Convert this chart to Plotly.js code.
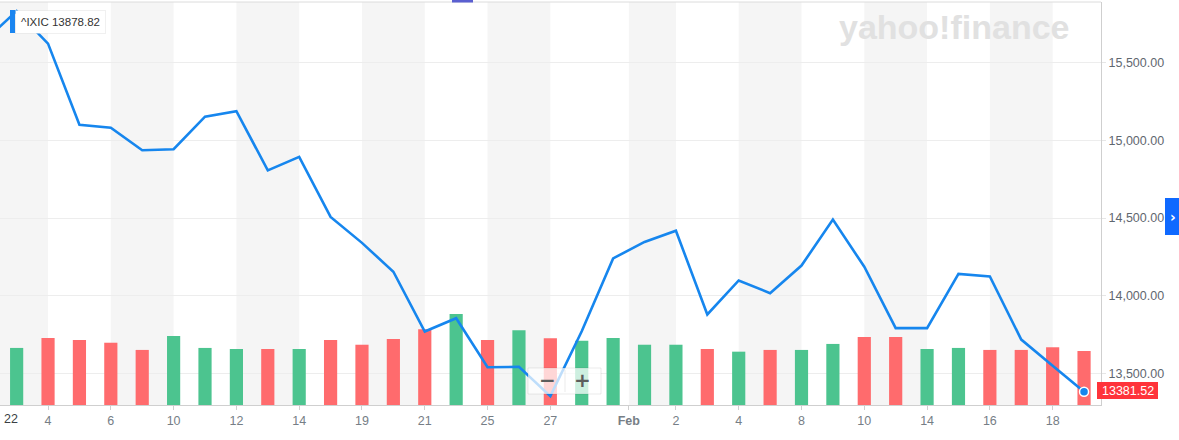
<!DOCTYPE html>
<html>
<head>
<meta charset="utf-8">
<script src="https://cdn.plot.ly/plotly-3.0.1.min.js"></script>
<style>html,body{margin:0;padding:0;background:#fff;}#chart{width:1179px;height:440px;}</style>
</head>
<body>
<div id="chart"></div>
<script>
// ---- data ----
const days = ['Jan 3','Jan 4','Jan 5','Jan 6','Jan 7','Jan 10','Jan 11','Jan 12','Jan 13','Jan 14',
  'Jan 18','Jan 19','Jan 20','Jan 21','Jan 24','Jan 25','Jan 26','Jan 27','Jan 28','Jan 31',
  'Feb 1','Feb 2','Feb 3','Feb 4','Feb 7','Feb 8','Feb 9','Feb 10','Feb 11','Feb 14',
  'Feb 15','Feb 16','Feb 17','Feb 18','Feb 22'];
const prevClose = 15645;   // last close before the window (line enters from the left edge)
const closes = [15833,15623,15100,15081,14936,14943,15153,15188,14807,14894,
  14507,14340,14154,13769,13855,13539,13542,13353,13771,14240,
  14346,14418,13879,14098,14016,14194,14490,14186,13791,13791,
  14140,14124,13717,13548,13381.52];
const volumes = [4.28,5.03,4.88,4.67,4.13,5.18,4.28,4.20,4.20,4.20,
  4.88,4.52,4.95,5.68,6.83,4.88,5.60,5.00,4.82,5.03,
  4.52,4.52,4.20,4.00,4.13,4.13,4.58,5.10,5.10,4.20,
  4.28,4.13,4.13,4.33,4.05];   // billions of shares
const tickDays  = ['Jan 4','Jan 6','Jan 10','Jan 12','Jan 14','Jan 19','Jan 21','Jan 25','Jan 27','Feb 1','Feb 2','Feb 4','Feb 8','Feb 10','Feb 14','Feb 16','Feb 18'];
const tickTexts = ['4','6','10','12','14','19','21','25','27','Feb','2','4','8','10','14','16','18'];
const yearLabel = '22';   // visible part of the year label at the left edge
const symbol = '^IXIC';
const hoverValue = 13878.82;

// ---- derived ----
const idx = days.map((d, i) => i);
const lineX = [-1].concat(idx);
const lineY = [prevClose].concat(closes);
const barColors = closes.map((c, i) => c >= (i === 0 ? prevClose : closes[i - 1]) ? '#4cc48f' : '#ff6b6d');
const tickvals = tickDays.map((d, i) => tickTexts[i] === 'Feb' ? days.indexOf(d) - 0.5 : days.indexOf(d));
const ticktext = tickTexts.map(t => t === 'Feb' ? '<b>Feb</b>' : t);

// plot geometry helpers (pixel -> paper)
const PL = 0, PR = 1101, PT = 2, PB = 405;
const px = x => (x - PL) / (PR - PL);
const py = y => (PB - y) / (PB - PT);

// alternating background bands between labelled ticks
const bandEdges = [[-2, 1], [3, 5], [7, 9], [11, 13], [15, 17], [19.5, 21], [23, 25], [27, 29], [31, 33]];
const shapes = bandEdges.map(b => ({
  type: 'rect', xref: 'x', yref: 'paper', x0: b[0], x1: b[1], y0: 0, y1: 1,
  fillcolor: '#f5f5f5', line: {width: 0}, layer: 'below'
}));
// top border
shapes.push({type: 'line', xref: 'paper', yref: 'paper', x0: 0, x1: 1, y0: 1, y1: 1, line: {color: '#dcdcdc', width: 1}});
// small blue mark at top
shapes.push({type: 'rect', xref: 'paper', yref: 'paper', x0: px(452), x1: px(473), y0: py(2.5), y1: py(0), fillcolor: '#5a5fd0', line: {width: 0}});
// tooltip accent
shapes.push({type: 'rect', xref: 'paper', yref: 'paper', x0: px(10), x1: px(15), y0: py(33), y1: py(10), fillcolor: '#1a85f0', line: {width: 0}});
// zoom control box
shapes.push({type: 'rect', xref: 'paper', yref: 'paper', x0: px(528), x1: px(601), y0: py(394), y1: py(368), fillcolor: 'rgba(255,255,255,0.72)', line: {color: 'rgba(0,0,0,0.08)', width: 1}, layer: 'above'});
shapes.push({type: 'line', xref: 'paper', yref: 'paper', x0: px(565), x1: px(565), y0: py(392), y1: py(370), line: {color: 'rgba(0,0,0,0.08)', width: 1}, layer: 'above'});
// right blue tab
shapes.push({type: 'rect', xref: 'paper', yref: 'paper', x0: px(1165), x1: px(1182), y0: py(235), y1: py(198), fillcolor: '#0f69ff', line: {width: 0}});
// last value red box
shapes.push({type: 'rect', xref: 'paper', yref: 'paper', x0: px(1097), x1: px(1158), y0: py(399), y1: py(382), fillcolor: '#ff333a', line: {width: 0}});

const lastClose = closes[closes.length - 1];
const annotations = [
  {xref: 'paper', yref: 'paper', x: px(2), y: py(419), xanchor: 'left', yanchor: 'middle',
   text: yearLabel, showarrow: false, font: {family: 'Liberation Sans, Arial', size: 12.5, color: '#3a3f44'}},
  {xref: 'paper', yref: 'paper', x: px(15), y: py(10), xanchor: 'left', yanchor: 'top',
   text: symbol + ' ' + hoverValue.toFixed(2), showarrow: false, bgcolor: '#ffffff', bordercolor: 'rgba(0,0,0,0.06)', borderwidth: 1, borderpad: 5,
   font: {family: 'Liberation Sans, Arial', size: 11.5, color: '#333'}},
  {xref: 'paper', yref: 'paper', x: px(954), y: py(27), xanchor: 'center', yanchor: 'middle',
   text: 'yahoo!finance', showarrow: false, font: {family: 'Liberation Sans, Arial', size: 34, color: '#e1e1e1', weight: 'bold'}},
  {xref: 'paper', yref: 'paper', x: px(1127.5), y: py(390.5), xanchor: 'center', yanchor: 'middle',
   text: lastClose.toFixed(2), showarrow: false, font: {family: 'Liberation Sans, Arial', size: 12.5, color: '#ffffff'}},
  {xref: 'paper', yref: 'paper', x: px(547), y: py(380), xanchor: 'center', yanchor: 'middle',
   text: '<b>\u2212</b>', showarrow: false, font: {family: 'DejaVu Sans', size: 20, color: '#5d5d5d'}},
  {xref: 'paper', yref: 'paper', x: px(582), y: py(380), xanchor: 'center', yanchor: 'middle',
   text: '<b>+</b>', showarrow: false, font: {family: 'DejaVu Sans', size: 20, color: '#5d5d5d'}},
  {xref: 'paper', yref: 'paper', x: px(1172.5), y: py(216.5), xanchor: 'center', yanchor: 'middle',
   text: '<b>\u203A</b>', showarrow: false, font: {family: 'DejaVu Sans', size: 14, color: '#ffffff'}}
];

const traces = [
  {type: 'bar', x: idx, y: volumes, width: 0.42, marker: {color: barColors, line: {width: 0}}, yaxis: 'y', hoverinfo: 'skip'},
  {type: 'scatter', mode: 'lines', x: lineX, y: lineY, yaxis: 'y2', line: {color: '#1686ee', width: 2.6}, hoverinfo: 'skip'},
  {type: 'scatter', mode: 'markers', x: [idx[idx.length - 1]], y: [lastClose], yaxis: 'y2',
   marker: {color: '#1686ee', size: 9, line: {color: '#ffffff', width: 1.5}}, hoverinfo: 'skip'}
];

const layout = {
  width: 1179, height: 440,
  margin: {l: PL, r: 1179 - PR, t: PT, b: 440 - PB},
  paper_bgcolor: '#ffffff', plot_bgcolor: 'rgba(0,0,0,0)',
  showlegend: false,
  font: {family: 'Liberation Sans, Arial', size: 12, color: '#6b737b'},
  xaxis: {range: [-0.53, 34.54], tickvals: tickvals, ticktext: ticktext, showgrid: false, zeroline: false,
    showline: true, linecolor: '#cfcfcf', linewidth: 1, ticks: 'outside', ticklen: 4, tickcolor: '#cfcfcf',
    tickfont: {size: 12.5, color: '#767e86'}},
  yaxis: {range: [0, 30.225], visible: false, fixedrange: true},
  yaxis2: {overlaying: 'y', side: 'right', range: [13296, 15891], tickvals: [13500, 14000, 14500, 15000, 15500],
    tickformat: ',.2f', showgrid: true, gridcolor: '#ededed', gridwidth: 1, zeroline: false,
    showline: true, linecolor: '#cfcfcf', linewidth: 1, ticks: 'outside', ticklen: 4, tickcolor: '#e6e6e6',
    tickfont: {size: 12.5, color: '#5f676f'}},
  shapes: shapes,
  annotations: annotations
};

Plotly.newPlot('chart', traces, layout, {staticPlot: true, displayModeBar: false});
</script>
</body>
</html>
